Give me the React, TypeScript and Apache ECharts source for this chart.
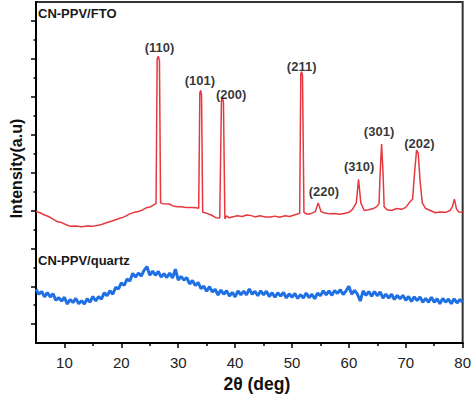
import React, { useEffect, useRef } from "react";
import * as echarts from "echarts";

// Red trace: CN-PPV/FTO  [2θ, intensity (offset units)]
const redTrace: [number, number][] = [
  [5, 3.47], [5.7, 3.44], [6.5, 3.38], [7.2, 3.34], [8, 3.27], [8.8, 3.2], [9.5, 3.18], [10.2, 3.13],
  [11, 3.08], [12, 3.09], [13, 3.07], [14, 3.09], [15, 3.08], [15.7, 3.1], [16.5, 3.13], [17.5, 3.18],
  [18.5, 3.23], [19.5, 3.28], [20.5, 3.33], [21.5, 3.41], [22.3, 3.45], [23, 3.47], [23.8, 3.52],
  [24.4, 3.57], [25.2, 3.6], [25.8, 3.66], [26.1, 3.68], [26.3, 7.5], [26.5, 7.57], [26.7, 7.45],
  [26.9, 3.7], [27.3, 3.68], [28.4, 3.67], [29.1, 3.62], [29.8, 3.6], [30.5, 3.6], [31.4, 3.58],
  [32.3, 3.58], [33.1, 3.57], [33.6, 3.56], [33.8, 6.6], [33.95, 6.67], [34.1, 6.55], [34.3, 3.45],
  [34.9, 3.43], [35.8, 3.38], [36.6, 3.31], [37.3, 3.3], [37.6, 6.4], [37.8, 6.46], [37.95, 6.35],
  [38.2, 3.28], [38.5, 3.36], [38.9, 3.31], [39.5, 3.33], [40.4, 3.36], [41.3, 3.34], [42, 3.38],
  [42.7, 3.37], [43.5, 3.33], [44.4, 3.36], [45.3, 3.33], [46.2, 3.33], [47, 3.35], [47.8, 3.32],
  [48.8, 3.36], [49.6, 3.34], [50.4, 3.38], [51, 3.41], [51.35, 3.42], [51.55, 7.1], [51.7, 7.16],
  [51.85, 7.05], [52.1, 3.45], [52.7, 3.4], [53.2, 3.41], [54.1, 3.47], [54.6, 3.7], [55.1, 3.47],
  [55.6, 3.44], [56.6, 3.41], [57.5, 3.42], [58.3, 3.4], [59.2, 3.42], [60.0, 3.45], [60.6, 3.52],
  [61.3, 3.7], [61.7, 4.32], [62.1, 3.7], [62.7, 3.5], [63.5, 3.52], [64.3, 3.55], [64.9, 3.6],
  [65.3, 3.68], [65.5, 4.5], [65.75, 5.25], [66.0, 4.5], [66.2, 3.6], [66.7, 3.52], [67.5, 3.5],
  [68.4, 3.55], [69.3, 3.53], [70.0, 3.58], [70.6, 3.7], [71.2, 3.8], [71.6, 4.6], [71.9, 5.09],
  [72.2, 5.0], [72.5, 4.3], [72.9, 3.7], [73.5, 3.55], [74.3, 3.5], [75.2, 3.44], [76.0, 3.46],
  [77.0, 3.45], [77.8, 3.5], [78.2, 3.6], [78.55, 3.8], [78.9, 3.55], [79.3, 3.46], [80, 3.45],
];

// Blue trace: CN-PPV/quartz (noisy)
const blueTrace: [number, number][] = [
  [5.0, 1.42], [5.5, 1.29], [6.0, 1.36], [6.5, 1.22], [7.0, 1.33], [7.5, 1.22], [8.0, 1.30], [8.5, 1.13],
  [9.0, 1.20], [9.5, 1.11], [10.0, 1.21], [10.5, 1.03], [11.0, 1.15], [11.5, 1.07], [12.0, 1.18], [12.5, 1.04],
  [13.0, 1.12], [13.5, 1.03], [14.0, 1.17], [14.5, 1.08], [15.0, 1.23], [15.5, 1.11], [16.0, 1.23], [16.5, 1.16],
  [17.0, 1.33], [17.5, 1.25], [18.0, 1.38], [18.5, 1.29], [19.0, 1.47], [19.5, 1.43], [20.0, 1.59], [20.5, 1.52],
  [21.0, 1.69], [21.5, 1.64], [22.0, 1.84], [22.5, 1.74], [23.0, 1.85], [23.5, 1.77], [24.0, 1.92], [24.5, 2.02],
  [25.0, 1.79], [25.5, 1.90], [26.0, 1.79], [26.5, 1.89], [27.0, 1.74], [27.5, 1.83], [28.0, 1.73], [28.5, 1.85],
  [29.0, 1.72], [29.5, 1.95], [30.0, 1.66], [30.5, 1.76], [31.0, 1.66], [31.5, 1.73], [32.0, 1.56], [32.5, 1.65],
  [33.0, 1.52], [33.5, 1.60], [34.0, 1.44], [34.5, 1.50], [35.0, 1.37], [35.5, 1.49], [36.0, 1.35], [36.5, 1.42],
  [37.0, 1.27], [37.5, 1.40], [38.0, 1.29], [38.5, 1.38], [39.0, 1.24], [39.5, 1.34], [40.0, 1.22], [40.5, 1.38],
  [41.0, 1.27], [41.5, 1.37], [42.0, 1.27], [42.5, 1.43], [43.0, 1.29], [43.5, 1.37], [44.0, 1.25], [44.5, 1.38],
  [45.0, 1.27], [45.5, 1.37], [46.0, 1.23], [46.5, 1.33], [47.0, 1.21], [47.5, 1.33], [48.0, 1.24], [48.5, 1.34],
  [49.0, 1.19], [49.5, 1.30], [50.0, 1.21], [50.5, 1.31], [51.0, 1.18], [51.5, 1.28], [52.0, 1.19], [52.5, 1.32],
  [53.0, 1.20], [53.5, 1.29], [54.0, 1.17], [54.5, 1.32], [55.0, 1.25], [55.5, 1.38], [56.0, 1.27], [56.5, 1.38],
  [57.0, 1.26], [57.5, 1.39], [58.0, 1.31], [58.5, 1.41], [59.0, 1.28], [59.5, 1.38], [60.0, 1.50], [60.5, 1.29],
  [61.0, 1.39], [61.5, 1.29], [62.0, 1.11], [62.5, 1.38], [63.0, 1.26], [63.5, 1.36], [64.0, 1.24], [64.5, 1.36],
  [65.0, 1.25], [65.5, 1.35], [66.0, 1.19], [66.5, 1.29], [67.0, 1.19], [67.5, 1.29], [68.0, 1.15], [68.5, 1.26],
  [69.0, 1.17], [69.5, 1.26], [70.0, 1.13], [70.5, 1.23], [71.0, 1.10], [71.5, 1.22], [72.0, 1.12], [72.5, 1.22],
  [73.0, 1.08], [73.5, 1.18], [74.0, 1.08], [74.5, 1.21], [75.0, 1.08], [75.5, 1.17], [76.0, 1.04], [76.5, 1.18],
  [77.0, 1.08], [77.5, 1.16], [78.0, 1.04], [78.5, 1.17], [79.0, 1.06], [79.5, 1.15], [80.0, 1.08],
];

// Peak annotations: label, 2θ and height of label centre
const peakNames = ["(110)", "(101)", "(200)", "(211)", "(220)", "(310)", "(301)", "(202)"];
const peakLabelX = [26.7, 33.8, 39.3, 51.7, 55.6, 61.8, 65.3, 72.4];
const peakLabelY = [7.8, 6.93, 6.56, 7.29, 4.0, 4.65, 5.58, 5.27];

const xMajorTicks = [10, 20, 30, 40, 50, 60, 70, 80];
const xMinorTicks = [15, 25, 35, 45, 55, 65, 75];
const yMajorTicks = [0.5, 1.5, 2.5, 3.5, 4.5, 5.5, 6.5, 7.5, 8.5];
const yMinorTicks = [1, 2, 3, 4, 5, 6, 7, 8];

const FONT = "'Liberation Sans', Arial, sans-serif";

export default function App() {
  const ref = useRef<HTMLDivElement>(null);
  useEffect(() => {
    if (!ref.current) return;
    const chart = echarts.init(ref.current, null, { renderer: "svg" });
    const xBase = { type: "value", min: 5, max: 80, gridIndex: 0 };
    const yBase = { type: "value", min: 0, max: 9, gridIndex: 0 };
    chart.setOption({
      animation: false,
      backgroundColor: "#ffffff",
      textStyle: { fontFamily: FONT },
      grid: {
        left: 32,
        right: 10,
        top: 2,
        bottom: 48,
        show: true,
        borderColor: "#333",
        borderWidth: 2,
        backgroundColor: "transparent",
      },
      xAxis: [
        {
          ...xBase,
          position: "bottom",
          axisLine: { show: true, lineStyle: { color: "#000", width: 2 } },
          axisTick: { show: true, customValues: xMajorTicks, length: 5, lineStyle: { color: "#000", width: 1.5 } },
          axisLabel: { show: true, customValues: xMajorTicks, margin: 12, fontSize: 15, color: "#222", fontFamily: FONT },
          splitLine: { show: false },
          name: "2θ (deg)",
          nameLocation: "middle",
          nameGap: 31,
          nameTextStyle: { fontSize: 17.5, fontWeight: "bold", color: "#111", fontFamily: FONT, padding: [0, 0, 0, 15] },
        },
        {
          ...xBase,
          position: "bottom",
          axisLine: { show: false },
          axisTick: { show: true, customValues: xMinorTicks, length: 3, lineStyle: { color: "#000", width: 1.5 } },
          axisLabel: { show: false },
          splitLine: { show: false },
        },
      ],
      yAxis: [
        {
          ...yBase,
          position: "left",
          axisLine: { show: true, lineStyle: { color: "#000", width: 2 } },
          axisTick: { show: true, customValues: yMajorTicks, length: 5, lineStyle: { color: "#000", width: 1.5 } },
          axisLabel: { show: false },
          splitLine: { show: false },
          name: "Intensity(a.u)",
          nameLocation: "middle",
          nameGap: 12,
          nameRotate: 90,
          nameTextStyle: { fontSize: 16, fontWeight: "bold", color: "#111", fontFamily: FONT, padding: [0, 0, 0, 8] },
        },
        {
          ...yBase,
          position: "left",
          axisLine: { show: false },
          axisTick: { show: true, customValues: yMinorTicks, length: 2.5, lineStyle: { color: "#000", width: 1.5 } },
          axisLabel: { show: false },
          splitLine: { show: false },
        },
      ],
      series: [
        {
          type: "line",
          name: "CN-PPV/FTO",
          xAxisIndex: 0,
          yAxisIndex: 0,
          data: redTrace,
          showSymbol: false,
          symbol: "none",
          lineStyle: { color: "#e5383f", width: 1.5 },
          z: 3,
        },
        {
          type: "line",
          name: "CN-PPV/quartz",
          xAxisIndex: 0,
          yAxisIndex: 0,
          data: blueTrace,
          showSymbol: false,
          symbol: "none",
          lineStyle: { color: "#1f70e3", width: 3 },
          z: 3,
        },
        {
          type: "scatter",
          xAxisIndex: 0,
          yAxisIndex: 0,
          symbolSize: 0,
          silent: true,
          data: peakNames.map((n, i) => ({ name: n, value: [peakLabelX[i], peakLabelY[i]] })),
          label: {
            show: true,
            position: "inside",
            formatter: "{b}",
            fontSize: 13,
            fontWeight: "bold",
            color: "#000",
            fontFamily: FONT,
          },
          z: 5,
        },
      ],
      graphic: [
        {
          type: "text",
          left: 38,
          top: 7,
          style: { text: "CN-PPV/FTO", font: `bold 13px ${FONT}`, fill: "#1a1a1a" },
        },
        {
          type: "text",
          left: 38,
          top: 254,
          style: { text: "CN-PPV/quartz", font: `bold 13px ${FONT}`, fill: "#1a1a1a" },
        },
      ],
    });
    return () => chart.dispose();
  }, []);
  return (
    <div
      ref={ref}
      style={{ position: "fixed", left: 0, top: 0, width: 474, height: 398, background: "#fff" }}
    />
  );
}
